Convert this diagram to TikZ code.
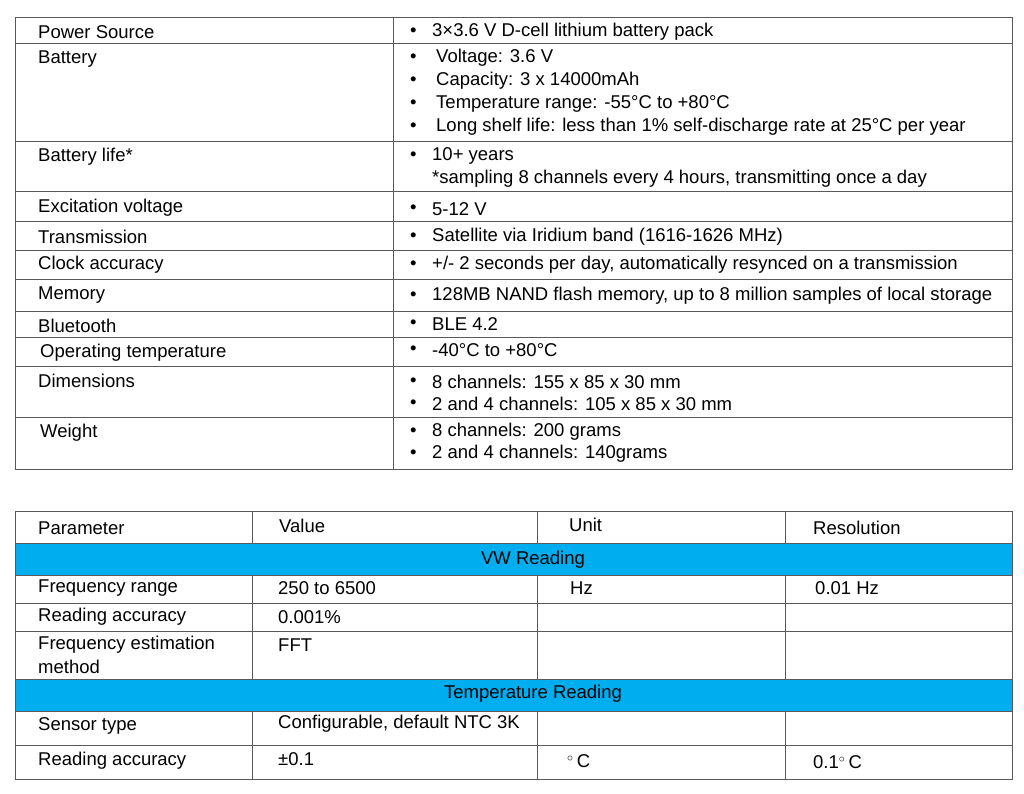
\documentclass[tikz,border=0pt]{standalone}
\usepackage{fontspec}
\setmainfont{Liberation Sans}
\begin{document}
\begin{tikzpicture}[x=1pt,y=-1pt,
  grid/.style={draw=black!65,line width=0.8pt},
  t/.style={anchor=west,inner sep=0pt,font=\fontsize{18.5}{22}\selectfont},
  bl/.style={anchor=west,inner sep=0pt,font=\fontsize{18.5}{22}\selectfont}]
\useasboundingbox (0,0) rectangle (1024,793);
\definecolor{bandc}{HTML}{00AEEF}
% Table 1
\foreach \y in {43,141,191,221,250,279,311,337,366,417} \draw[grid] (15,\y) -- (1012,\y);
\draw[grid] (15,17) rectangle (1012,469);
\draw[grid] (393,17) -- (393,469);
\newcommand{\bul}[4]{\node[bl] at (#1,#2) {\textbullet}; \node[t] at (#3,#2) {#4};}
\node[t] (a1) at (38,32) {Power Source};
\bul{410}{32}{432}{3×3.6 V D-cell lithium battery pack}
\node[t] (a2) at (38,59) {Battery};
\bul{410}{58}{436}{Voltage: 3.6 V}
\bul{410}{81}{436}{Capacity: 3 x 14000mAh}
\bul{410}{104}{436}{Temperature range: -55°C to +80°C}
\bul{410}{127}{436}{Long shelf life: less than 1\% self-discharge rate at 25°C per year}
\node[t] (a3) at (38,157) {Battery life*};
\bul{410}{156}{432}{10+ years}
\node[t] at (432,179) {*sampling 8 channels every 4 hours, transmitting once a day};
\node[t] (a4) at (38,208) {Excitation voltage};
\bul{410}{209}{432}{5-12 V}
\node[t] (a5) at (38,237) {Transmission};
\bul{410}{237}{432}{Satellite via Iridium band (1616-1626 MHz)}
\node[t] (a6) at (38,265) {Clock accuracy};
\bul{410}{265}{432}{+/- 2 seconds per day, automatically resynced on a transmission}
\node[t] (a7) at (38,295) {Memory};
\bul{410}{296}{432}{128MB NAND flash memory, up to 8 million samples of local storage}
\node[t] (a8) at (38,326) {Bluetooth};
\bul{410}{324}{432}{BLE 4.2}
\node[t] (a9) at (40,353) {Operating temperature};
\bul{410}{350}{432}{-40°C to +80°C}
\node[t] (a10) at (38,381) {Dimensions};
\bul{410}{382}{432}{8 channels: 155 x 85 x 30 mm}
\bul{410}{404}{432}{2 and 4 channels: 105 x 85 x 30 mm}
\node[t] (a11) at (40,433) {Weight};
\bul{410}{432}{432}{8 channels: 200 grams}
\bul{410}{454}{432}{2 and 4 channels: 140grams}
% Table 2
\fill[bandc] (15,543) rectangle (1012,575);
\fill[bandc] (15,679) rectangle (1012,711);
\foreach \y in {543,575,603,631,679,711,745} \draw[grid] (15,\y) -- (1012,\y);
\draw[grid] (15,511) rectangle (1012,779);
\foreach \x in {252,537,785} {\draw[grid] (\x,511) -- (\x,543); \draw[grid] (\x,575) -- (\x,679); \draw[grid] (\x,711) -- (\x,779);}
\node[t] at (38,528) {Parameter};
\node[t] at (279,526) {Value};
\node[t] at (569,525) {Unit};
\node[t] at (813,528) {Resolution};
\node[t,anchor=center] at (533,560) {VW Reading};
\node[t] at (38,588) {Frequency range};
\node[t] at (278,588) {250 to 6500};
\node[t] at (570,588) {Hz};
\node[t] at (815,588) {0.01 Hz};
\node[t] at (38,617) {Reading accuracy};
\node[t] at (278,617) {0.001\%};
\node[t] at (38,645) {Frequency estimation};
\node[t] at (38,667) {method};
\node[t] at (278,645) {FFT};
\node[t,anchor=center] at (533,694) {Temperature Reading};
\node[t] at (38,726) {Sensor type};
\node[t] at (278,724) {Configurable, default NTC 3K};
\node[t] at (38,761) {Reading accuracy};
\node[t] at (278,759) {±0.1};
\node[t] at (567,761) {$^\circ$\,C};
\node[t] at (813,762) {0.1$^\circ$\,C};
\end{tikzpicture}
\end{document}
